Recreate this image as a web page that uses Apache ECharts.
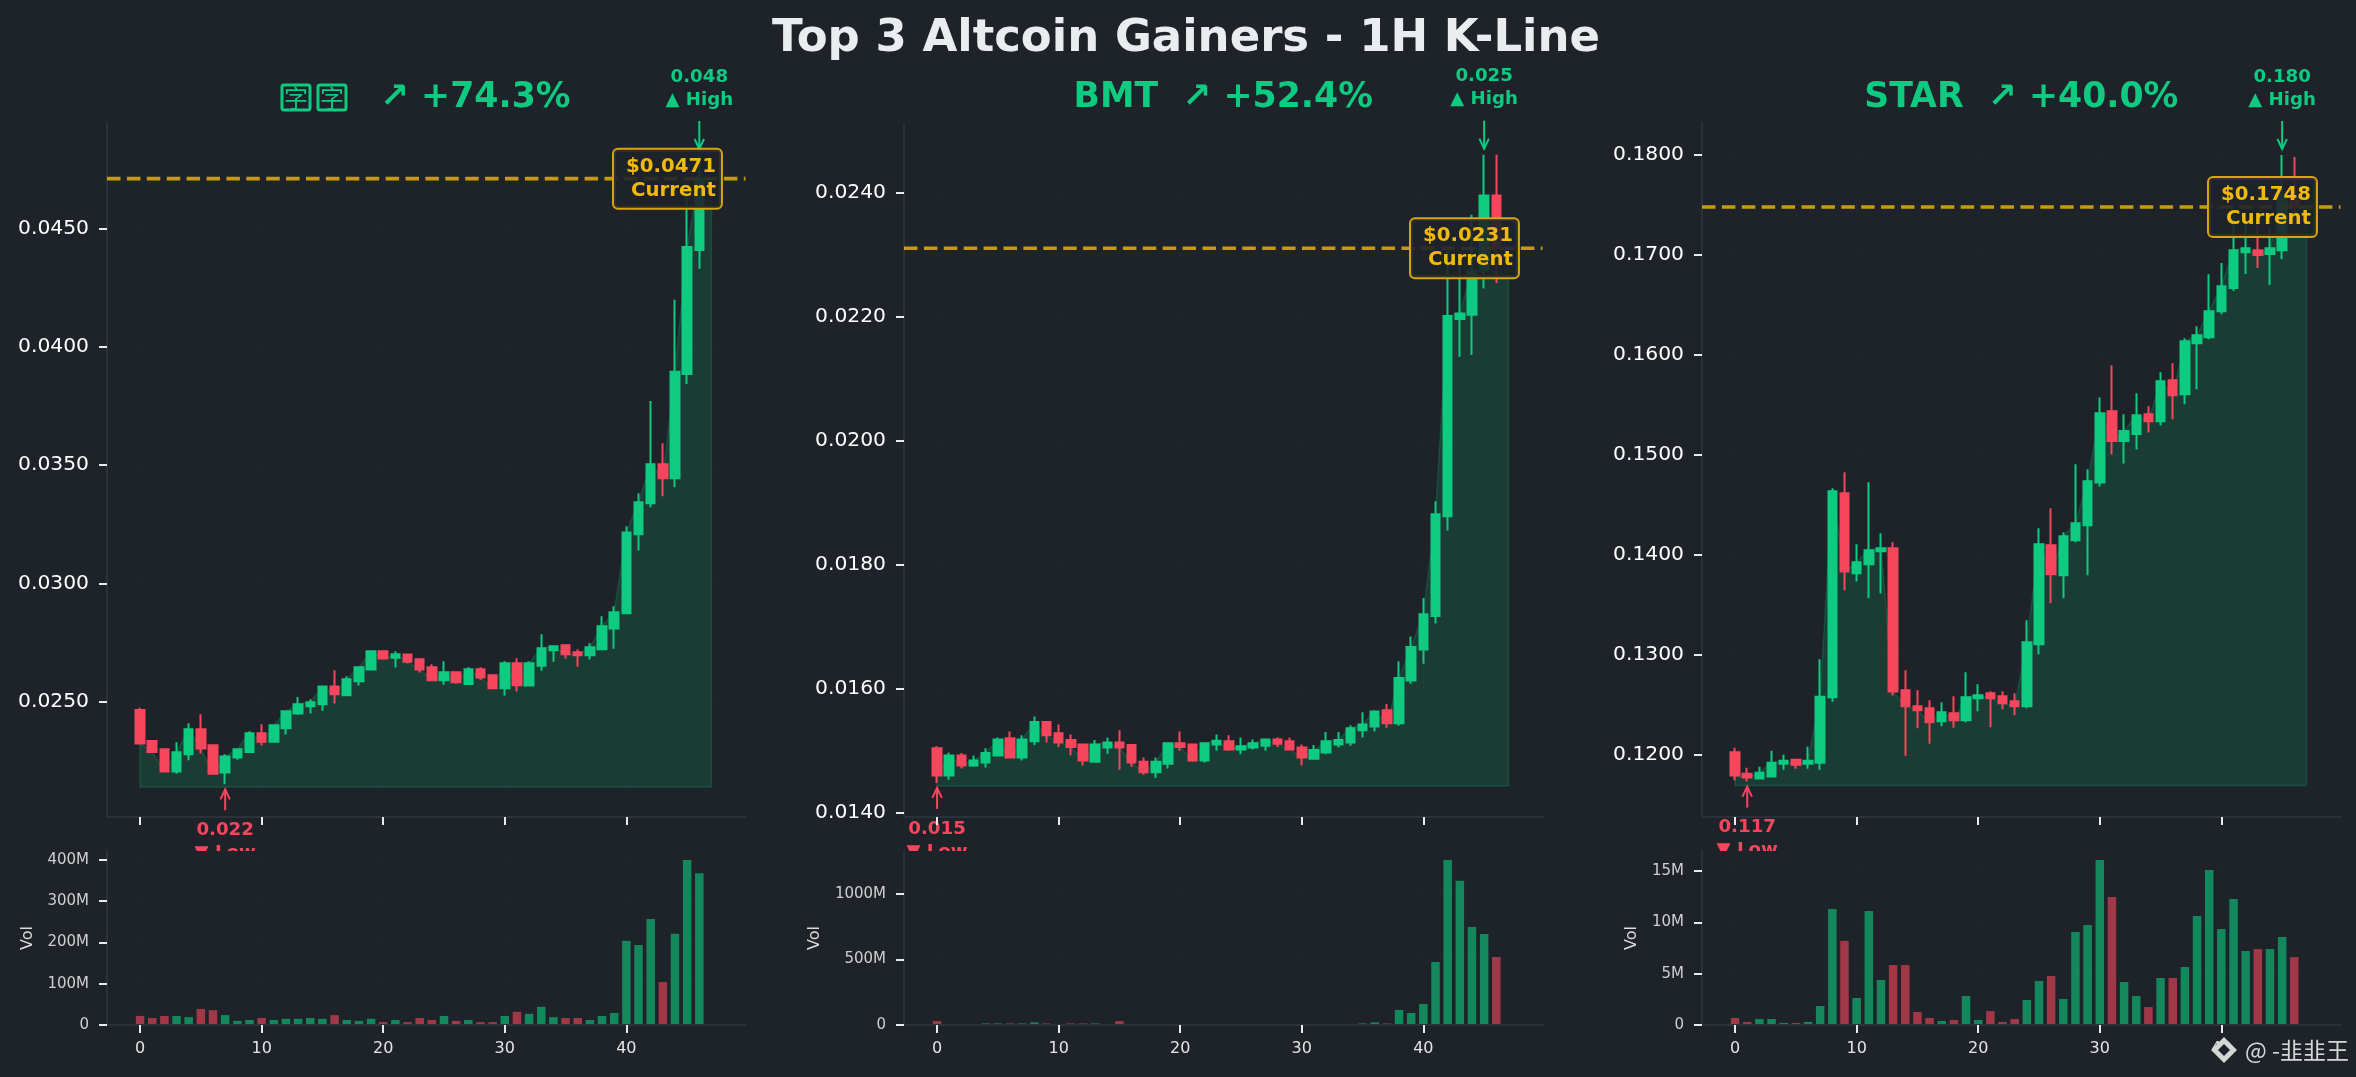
<!DOCTYPE html>
<html><head><meta charset="utf-8">
<style>html,body{margin:0;padding:0;background:#1e2329}#c{width:2356px;height:1077px}</style>
<script src="https://cdn.jsdelivr.net/npm/echarts@6/dist/echarts.min.js"></script>
</head><body><div id="c"></div>
<script>
// ---------- data ----------
const mainTitle = 'Top 3 Altcoin Gainers - 1H K-Line';
const changeLabels = ['↗ +74.3%', '↗ +52.4%', '↗ +40.0%'];
const symbols = ['', 'BMT', 'STAR'];
const tofuGlyph = '字';

const open1 = [.02466,.02335,.02300,.02206,.02279,.02385,.02317,.02202,.02265,.02289,.02368,.02332,.02389,.02451,.02482,.02490,.02565,.02528,.02587,.02637,.02714,.02687,.02700,.02680,.02646,.02592,.02625,.02576,.02638,.02613,.02558,.02663,.02569,.02653,.02718,.02739,.02710,.02697,.02722,.02810,.02874,.03208,.03339,.03504,.03445,.03885,.04409];
const close1 = [.02324,.02289,.02206,.02287,.02385,.02303,.02197,.02270,.02300,.02368,.02332,.02401,.02461,.02490,.02499,.02565,.02532,.02596,.02646,.02714,.02683,.02701,.02670,.02637,.02592,.02625,.02583,.02638,.02603,.02558,.02663,.02570,.02663,.02727,.02735,.02701,.02697,.02731,.02820,.02879,.03216,.03343,.03504,.03445,.03894,.04421,.04710];
const low1 = [.02324,.02286,.02206,.02197,.02254,.02282,.02194,.02152,.02256,.02287,.02316,.02328,.02362,.02446,.02451,.02463,.02493,.02527,.02569,.02634,.02679,.02645,.02662,.02624,.02592,.02573,.02577,.02573,.02594,.02555,.02527,.02544,.02568,.02632,.02670,.02683,.02649,.02679,.02718,.02725,.02874,.03140,.03322,.03369,.03407,.03843,.04329];
const high1 = [.02475,.02339,.02304,.02330,.02410,.02448,.02317,.02279,.02304,.02376,.02406,.02401,.02463,.02521,.02511,.02565,.02634,.02608,.02651,.02714,.02718,.02714,.02704,.02680,.02659,.02672,.02625,.02646,.02646,.02613,.02672,.02684,.02672,.02786,.02739,.02739,.02722,.02748,.02862,.02904,.03242,.03381,.03771,.03592,.04198,.04658,.04810];
const vol1 = [22,17,22,22,19,39,36,24,10,12,17,12,15,15,17,15,24,12,10,15,7,12,7,17,12,22,10,12,7,7,22,32,27,44,19,17,17,12,22,29,204,194,257,104,221,400,368];

const open2 = [.01504,.01460,.01492,.01476,.01481,.01492,.01520,.01489,.01515,.01546,.01528,.01517,.01510,.01482,.01505,.01513,.01509,.01482,.01465,.01479,.01512,.01510,.01484,.01510,.01515,.01502,.01505,.01508,.01518,.01515,.01505,.01487,.01497,.01510,.01513,.01533,.01539,.01565,.01544,.01613,.01663,.01717,.01878,.02196,.02203,.02274,.02395];
const close2 = [.01460,.01492,.01476,.01484,.01496,.01518,.01489,.01518,.01546,.01525,.01513,.01506,.01484,.01510,.01513,.01505,.01481,.01465,.01482,.01512,.01506,.01484,.01512,.01516,.01502,.01507,.01512,.01518,.01511,.01502,.01489,.01501,.01515,.01517,.01536,.01542,.01563,.01544,.01617,.01667,.01720,.01881,.02201,.02205,.02274,.02395,.02310];
const low2 = [.01448,.01453,.01471,.01474,.01473,.01492,.01489,.01484,.01509,.01513,.01506,.01492,.01476,.01481,.01495,.01469,.01474,.01461,.01456,.01471,.01500,.01482,.01481,.01500,.01500,.01494,.01502,.01500,.01506,.01502,.01476,.01487,.01494,.01505,.01508,.01521,.01531,.01537,.01540,.01608,.01640,.01705,.01855,.02135,.02138,.02245,.02254];
const high2 = [.01507,.01497,.01496,.01492,.01504,.01521,.01531,.01525,.01555,.01546,.01542,.01526,.01510,.01517,.01521,.01533,.01510,.01489,.01489,.01512,.01531,.01510,.01513,.01526,.01525,.01521,.01518,.01518,.01521,.01521,.01510,.01509,.01530,.01530,.01541,.01562,.01565,.01575,.01644,.01684,.01746,.01902,.02306,.02293,.02364,.02461,.02461];
const vol2 = [30,3,3,3,12,12,12,12,20,12,3,12,12,12,3,30,3,3,3,3,3,3,3,3,3,3,3,3,3,3,3,3,3,3,3,12,20,12,115,92,160,481,1260,1100,748,695,519];

const open3 = [.12023,.1181,.1176,.1178,.1191,.1195,.1191,.1192,.12574,.14616,.13815,.13905,.14036,.14066,.12644,.12484,.12464,.12334,.12414,.12344,.12564,.12614,.12584,.12534,.12484,.13104,.14095,.13795,.14146,.14296,.14723,.15437,.15137,.15207,.15407,.15337,.15747,.15607,.16117,.16177,.16437,.16668,.17028,.17048,.17009,.17048,.17576];
const close3 = [.1179,.1177,.1182,.1192,.1194,.1190,.1194,.1258,.14636,.13832,.13925,.14046,.14066,.12631,.12484,.12444,.12324,.12424,.12344,.12574,.12594,.12564,.12514,.12484,.13125,.14105,.13805,.14186,.14316,.14736,.15417,.15137,.15237,.15397,.15337,.15737,.15597,.16137,.16197,.16437,.16687,.17048,.17068,.16998,.17068,.17576,.17480];
const low3 = [.11743,.1173,.1175,.1178,.1185,.1186,.1186,.1185,.1253,.13645,.13732,.13565,.13612,.12591,.1199,.12264,.1211,.12284,.1227,.12324,.12434,.12274,.12454,.12394,.12464,.13004,.13515,.13565,.14126,.13795,.14683,.15003,.14913,.15053,.15223,.15293,.15357,.15507,.15657,.16157,.16407,.16638,.16808,.16868,.16698,.16958,.17309];
const high3 = [.1207,.1187,.1188,.1204,.1200,.1196,.1208,.12954,.14666,.14826,.14106,.14726,.14216,.14126,.12844,.12644,.12544,.12524,.12584,.12824,.12704,.12634,.12634,.12614,.13345,.14266,.14466,.14226,.14906,.14856,.15574,.15897,.15407,.15617,.15487,.15827,.15917,.16167,.16287,.16807,.16918,.17375,.17309,.17375,.17275,.18000,.17980];
const vol3 = [.68,.3,.58,.58,.2,.2,.3,1.85,11.3,8.2,2.63,11.1,4.38,5.84,5.84,1.27,.68,.39,.49,2.82,.49,1.36,.3,.58,2.44,4.29,4.77,2.53,9.06,9.74,16.07,12.47,4.19,2.82,1.75,4.58,4.58,5.65,10.62,15.1,9.35,12.27,7.21,7.4,7.4,8.57,6.62];

const currentPrices = [0.0471, 0.0231, 0.1748];
const currentLabels = ['$0.0471\nCurrent', '$0.0231\nCurrent', '$0.1748\nCurrent'];
const highIndex = [46, 45, 45];
const highValues = [0.0481, 0.02461, 0.1800];
const highLabels = ['0.048\n▲ High', '0.025\n▲ High', '0.180\n▲ High'];
const lowIndex = [7, 0, 1];
const lowValues = [0.02152, 0.01448, 0.1173];
const lowLabels = ['0.022\n▼ Low', '0.015\n▼ Low', '0.117\n▼ Low'];
const areaBase = [0.02141, 0.01443, 0.1169];

const xTicks = [0, 10, 20, 30, 40];
const priceTicks1 = [0.025, 0.03, 0.035, 0.04, 0.045];
const priceTicks2 = [0.014, 0.016, 0.018, 0.02, 0.022, 0.024];
const priceTicks3 = [0.12, 0.13, 0.14, 0.15, 0.16, 0.17, 0.18];
const volTicks1 = [0, 100, 200, 300, 400];
const volTicks2 = [0, 500, 1000];
const volTicks3 = [0, 5, 10, 15];
const xRange = [-2.72, 49.8];
const priceRanges = [[0.02014, 0.04945], [0.01393, 0.02512], [0.11376, 0.1832]];
const volMax = [421.8, 1328, 16.95];
const volName = 'Vol';
const watermarkText = '@ -韭韭王';

// ---------- styles and layout ----------
const BG = '#1e2329', GREEN = '#0ecb81', RED = '#f6465d', GOLD = '#f0b90b', SPINE = '#2b3139';
const FONT = '"DejaVu Sans"';
const panelLeft = [107, 904, 1702], panelW = 638.5;
const mainTop = 123, mainH = 694, volTop = 851, volH = 174;
const nameGaps = [71, 81, 62];

const panels = [
  {o: open1, c: close1, l: low1, h: high1, v: vol1, pt: priceTicks1, vt: volTicks1},
  {o: open2, c: close2, l: low2, h: high2, v: vol2, pt: priceTicks2, vt: volTicks2},
  {o: open3, c: close3, l: low3, h: high3, v: vol3, pt: priceTicks3, vt: volTicks3}
];

const grids = [], xAxes = [], yAxes = [], series = [], titles = [], masks = [];

titles.push({text: mainTitle, left: 1186, top: 17, padding: 0, textAlign: 'center',
  textStyle: {color: '#eaecef', fontFamily: FONT, fontWeight: 'bold', fontSize: 45}});

function arrowShapes(x, tailY, tipY, color) {
  const d = tipY > tailY ? -1 : 1;
  const st = {stroke: color, lineWidth: 2, fill: null};
  return [
    {type: 'polyline', shape: {points: [[x, tailY], [x, tipY]]}, style: st},
    {type: 'polyline', shape: {points: [[x - 4.7, tipY + d * 10], [x, tipY], [x + 4.7, tipY + d * 10]]}, style: st}
  ];
}

panels.forEach((p, k) => {
  const gi = k * 2, gv = k * 2 + 1, left = panelLeft[k];
  grids.push({left, top: mainTop, width: panelW, height: mainH});
  grids.push({left, top: volTop, width: panelW, height: volH});

  const tickStyle = {show: true, length: 8, lineStyle: {color: '#e8eaed', width: 2}};
  const faint = {show: true, lineStyle: {color: 'rgba(255,255,255,0.015)', width: 1}};
  const axisLine = {show: true, onZero: false, lineStyle: {color: SPINE, width: 2}};

  xAxes.push({gridIndex: gi, type: 'value', min: xRange[0], max: xRange[1], position: 'bottom',
    axisLine, axisTick: Object.assign({customValues: xTicks}, tickStyle),
    axisLabel: {show: false, customValues: xTicks}, splitLine: faint, z: 7});
  yAxes.push({gridIndex: gi, type: 'value', min: priceRanges[k][0], max: priceRanges[k][1], position: 'left',
    axisLine, axisTick: Object.assign({customValues: p.pt}, tickStyle),
    axisLabel: {customValues: p.pt, color: '#ffffff', fontFamily: FONT, fontSize: 20.3, margin: 18,
      formatter: v => v.toFixed(4)}, splitLine: faint, z: 1});

  xAxes.push({gridIndex: gv, type: 'value', min: xRange[0], max: xRange[1], position: 'bottom',
    axisLine, axisTick: Object.assign({customValues: xTicks}, tickStyle),
    axisLabel: {customValues: xTicks, color: '#e4e4e4', fontFamily: FONT, fontSize: 16, margin: 16,
      formatter: v => String(v)}, splitLine: faint, z: 7});
  yAxes.push({gridIndex: gv, type: 'value', min: 0, max: volMax[k], position: 'left',
    name: volName, nameLocation: 'middle', nameGap: nameGaps[k], nameRotate: 90,
    nameTextStyle: {color: '#dddddd', fontFamily: FONT, fontSize: 16},
    axisLine, axisTick: Object.assign({customValues: p.vt}, tickStyle),
    axisLabel: {customValues: p.vt, color: '#cfcfcf', fontFamily: FONT, fontSize: 15, margin: 18,
      formatter: v => v === 0 ? '0' : v + 'M'}, splitLine: faint, z: 7});

  // panel title
  const cx = left + panelW / 2;
  if (k === 0) {
    titles.push({text: `{box|${tofuGlyph}}{g| }{box|${tofuGlyph}}{g2| }{t|${changeLabels[k]}}`, left: cx, top: 80, padding: 0, textAlign: 'center',
      textStyle: {rich: {
        box: {color: GREEN, fontFamily: '"Noto Sans CJK SC"', fontSize: 24, fontWeight: 'normal', lineHeight: 27,
          borderColor: GREEN, borderWidth: 3, borderRadius: 2, padding: [1, 1, 0, 1], width: 26, align: 'center'},
        g: {color: GREEN, fontSize: 10, width: 8},
        g2: {color: GREEN, fontSize: 10, width: 34},
        t: {color: GREEN, fontFamily: FONT, fontWeight: 'bold', fontSize: 34.7}
      }}});
  } else {
    titles.push({text: symbols[k] + '  ' + changeLabels[k], left: cx, top: 80.7, padding: 0, textAlign: 'center',
      textStyle: {color: GREEN, fontFamily: FONT, fontWeight: 'bold', fontSize: 34.7}});
  }

  const candles = p.o.map((o, i) => [i, o, p.c[i], p.l[i], p.h[i]]);
  // the shaded area follows the closes and ends one step after the last candle
  const areaData = p.c.map((c, i) => [i, c]).concat([[p.c.length, currentPrices[k]]]);
  const last = areaData.length - 1;

  series.push({type: 'line', xAxisIndex: gi, yAxisIndex: gi, data: areaData, symbol: 'none', z: 1, silent: true,
    lineStyle: {color: GREEN, opacity: 0.2, width: 1.5},
    areaStyle: {color: GREEN, opacity: 0.15, origin: areaBase[k]}});
  series.push({type: 'line', xAxisIndex: gi, yAxisIndex: gi, symbol: 'none', z: 1, silent: true,
    data: [[0, p.c[0]], [0, areaBase[k]], [last, areaBase[k]], [last, currentPrices[k]]],
    lineStyle: {color: GREEN, opacity: 0.2, width: 1.5}});
  series.push({type: 'candlestick', xAxisIndex: gi, yAxisIndex: gi, data: candles, barWidth: 9, z: 2, silent: true,
    itemStyle: {color: GREEN, color0: RED, borderColor: GREEN, borderColor0: RED, borderWidth: 2}});

  // low annotation (its second line is cut off by the volume panel)
  series.push({type: 'custom', xAxisIndex: gi, yAxisIndex: gi, z: 3, silent: true, clip: false,
    data: [[lowIndex[k], lowValues[k]]],
    renderItem: (params, api) => {
      const pt = api.coord([api.value(0), api.value(1)]);
      const lines = lowLabels[k].split('\n');
      return {type: 'group', children: arrowShapes(pt[0], pt[1] + 26, pt[1] + 5, RED).concat([
        {type: 'text', style: {text: lines[0], x: pt[0], y: pt[1] + 46, align: 'center', verticalAlign: 'middle',
          fill: RED, font: `bold 18.2px ${FONT}`}},
        {type: 'text', style: {text: lines[1], x: pt[0], y: pt[1] + 69, align: 'center', verticalAlign: 'middle',
          fill: RED, font: `bold 18.2px ${FONT}`}}
      ])};
    }});
  masks.push({type: 'rect', z: 4, silent: true, shape: {x: left - 12, y: volTop, width: panelW + 12, height: 34}, style: {fill: BG}});

  // dashed current price line
  series.push({type: 'line', xAxisIndex: gi, yAxisIndex: gi, symbol: 'none', z: 5, silent: true,
    data: [[xRange[0], currentPrices[k]], [xRange[1], currentPrices[k]]],
    lineStyle: {color: GOLD, opacity: 0.8, width: 3.6, type: [13.5, 6.4]}});

  // high annotation and current price box
  series.push({type: 'custom', xAxisIndex: gi, yAxisIndex: gi, z: 6, silent: true, clip: false,
    data: [[highIndex[k], highValues[k]]],
    renderItem: (params, api) => {
      const pt = api.coord([api.value(0), api.value(1)]);
      const lines = highLabels[k].split('\n');
      return {type: 'group', children: arrowShapes(pt[0], pt[1] - 34, pt[1] - 6, GREEN).concat([
        {type: 'text', style: {text: lines[0], x: pt[0], y: pt[1] - 78, align: 'center', verticalAlign: 'middle',
          fill: GREEN, font: `bold 18.2px ${FONT}`}},
        {type: 'text', style: {text: lines[1], x: pt[0], y: pt[1] - 55, align: 'center', verticalAlign: 'middle',
          fill: GREEN, font: `bold 18.2px ${FONT}`}}
      ])};
    }});
  series.push({type: 'custom', xAxisIndex: gi, yAxisIndex: gi, z: 7, silent: true, clip: false,
    data: [[47.78, currentPrices[k]]],
    renderItem: (params, api) => {
      const pt = api.coord([api.value(0), api.value(1)]);
      return {type: 'text', style: {text: currentLabels[k], x: pt[0], y: pt[1], align: 'right', verticalAlign: 'middle',
        fill: GOLD, font: `bold 19.75px ${FONT}`, lineHeight: 24,
        backgroundColor: 'rgba(30,35,41,0.9)', borderColor: '#d6a50f', borderWidth: 2, borderRadius: 4,
        padding: [5, 5, 5, 12]}};
    }});

  // volume
  series.push({type: 'bar', xAxisIndex: gv, yAxisIndex: gv, z: 5, silent: true, barWidth: 8.5,
    data: p.v.map((v, i) => ({value: [i, v], itemStyle: {color: p.c[i] >= p.o[i] ? GREEN : RED, opacity: 0.6}}))});
});

const watermark = [
  {type: 'polygon', z: 9, silent: true, shape: {points: [[2224, 1037], [2237, 1050], [2224, 1063], [2211, 1050]]}, style: {fill: '#d6d6d6'}},
  {type: 'polygon', z: 9, silent: true, shape: {points: [[2224, 1044], [2230, 1050], [2224, 1056], [2218, 1050]]}, style: {fill: BG}},
  {type: 'text', z: 9, silent: true, style: {text: watermarkText, x: 2245, y: 1050, verticalAlign: 'middle',
    fill: '#d6d6d6', font: '23px "Noto Sans CJK SC"'}}
];

const chart = echarts.init(document.getElementById('c'), null, {renderer: 'canvas'});
chart.setOption({
  backgroundColor: BG, animation: false,
  title: titles, grid: grids, xAxis: xAxes, yAxis: yAxes, series,
  graphic: {elements: masks.concat(watermark)}
});
</script></body></html>
